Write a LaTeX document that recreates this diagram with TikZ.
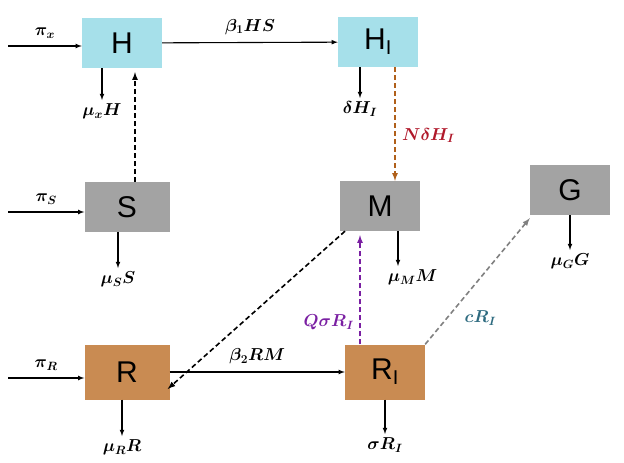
\documentclass[tikz,border=0pt]{standalone}
\usepackage{amsmath,bm}
\usepackage{fontspec}
\newfontfamily\boxfont{Liberation Sans}
\usetikzlibrary{positioning}
\definecolor{hcol}{HTML}{A6E0EA}
\definecolor{scol}{HTML}{A3A3A3}
\definecolor{rcol}{HTML}{C98B52}
\definecolor{nred}{HTML}{B0182A}
\definecolor{qpur}{HTML}{7A1FA2}
\definecolor{cteal}{HTML}{2E6B80}
\definecolor{dbrown}{HTML}{B0601A}
\tikzset{
  comp/.style = {minimum width=80pt, minimum height=50pt, inner sep=0pt, font=\boxfont\fontsize{30}{30}\selectfont},
  flow/.style = {->, >=latex, line width=1.1pt},
  dflow/.style = {->, >=latex, line width=1.6pt, dash pattern=on 5pt off 3pt},
  lab/.style = {font=\fontsize{17}{17}\selectfont},
}
\begin{document}
\begin{tikzpicture}[x=1pt,y=-1pt]
  \useasboundingbox (0,0) rectangle (624,463);
  % --- Compartments
  \node[comp, fill=hcol] (H) at (122,43) {H};
  \node[comp, fill=hcol] (HI) at (378,42) {H\textsubscript{\fontsize{20}{20}\selectfont I}};
  \node[comp, fill=scol, minimum width=85pt] (S) at (127,207) {S};
  \node[comp, fill=scol] (M) at (380,206) {M};
  \node[comp, fill=scol] (G) at (570,190) {G};
  \node[comp, fill=rcol, minimum width=85pt, minimum height=55pt] (R) at (127,372) {R};
  \node[comp, fill=rcol, minimum height=55pt] (RI) at (385,372) {R\textsubscript{\fontsize{20}{20}\selectfont I}};
  % --- Free ends
  \coordinate (px) at (8,46);
  \coordinate (ps) at (8,212);
  \coordinate (pr) at (8,378);
  \coordinate (dH) at (102,100);
  \coordinate (dHI) at (360,98);
  \coordinate (dS) at (118,268);
  \coordinate (dM) at (398,266);
  \coordinate (dG) at (570,250);
  \coordinate (dR) at (122,436);
  \coordinate (dRI) at (385,434);
  % --- Inflows
  \draw[flow] (px) -- (px -| H.west) node[lab, midway, above=4pt] {$\bm{\pi_x}$};
  \draw[flow] (ps) -- (ps -| S.west) node[lab, midway, above=4pt] {$\bm{\pi_S}$};
  \draw[flow] (pr) -- (pr -| R.west) node[lab, midway, above=4pt] {$\bm{\pi_R}$};
  % --- Transmissions
  \draw[flow] (H) -- (HI) node[lab, midway, above=4pt] {$\bm{\beta_1 HS}$};
  \draw[flow] (R) -- (RI) node[lab, midway, above=4pt] {$\bm{\beta_2 RM}$};
  % --- Deaths
  \draw[flow] (dH |- H.south) -- (dH) node[lab, below] {$\bm{\mu_x H}$};
  \draw[flow] (dHI |- HI.south) -- (dHI) node[lab, below] {$\bm{\delta H_I}$};
  \draw[flow] (dS |- S.south) -- (dS) node[lab, below] {$\bm{\mu_S S}$};
  \draw[flow] (dM |- M.south) -- (dM) node[lab, below right=0pt and -14pt] {$\bm{\mu_M M}$};
  \draw[flow] (dG |- G.south) -- (dG) node[lab, below] {$\bm{\mu_G G}$};
  \draw[flow] (dR |- R.south) -- (dR) node[lab, below] {$\bm{\mu_R R}$};
  \draw[flow] (dRI |- RI.south) -- (dRI) node[lab, below] {$\bm{\sigma R_I}$};
  % --- Dashed links
  \draw[dflow] ([xshift=8pt]S.north) -- ([xshift=13pt,yshift=-4pt]H.south);
  \draw[dflow, dbrown] ([xshift=17pt]HI.south) -- ([xshift=15pt]M.north) node[lab, pos=0.6, right=3pt, text=nred] {$\bm{N\delta H_I}$};
  \draw[dflow] ([xshift=-35pt]M.south) -- ([xshift=-2pt,yshift=-17pt]R.east);
  \draw[dflow, qpur] ([xshift=-25pt]RI.north) -- ([xshift=-20pt,yshift=-4pt]M.south) node[lab, pos=0.2, left=2pt] {$\bm{Q\sigma R_I}$};
  \draw[dflow, gray] (RI.north east) -- ([yshift=-3pt]G.south west) node[lab, pos=0.3, below right=0pt and 4pt, text=cteal] {$\bm{cR_I}$};
\end{tikzpicture}
\end{document}
